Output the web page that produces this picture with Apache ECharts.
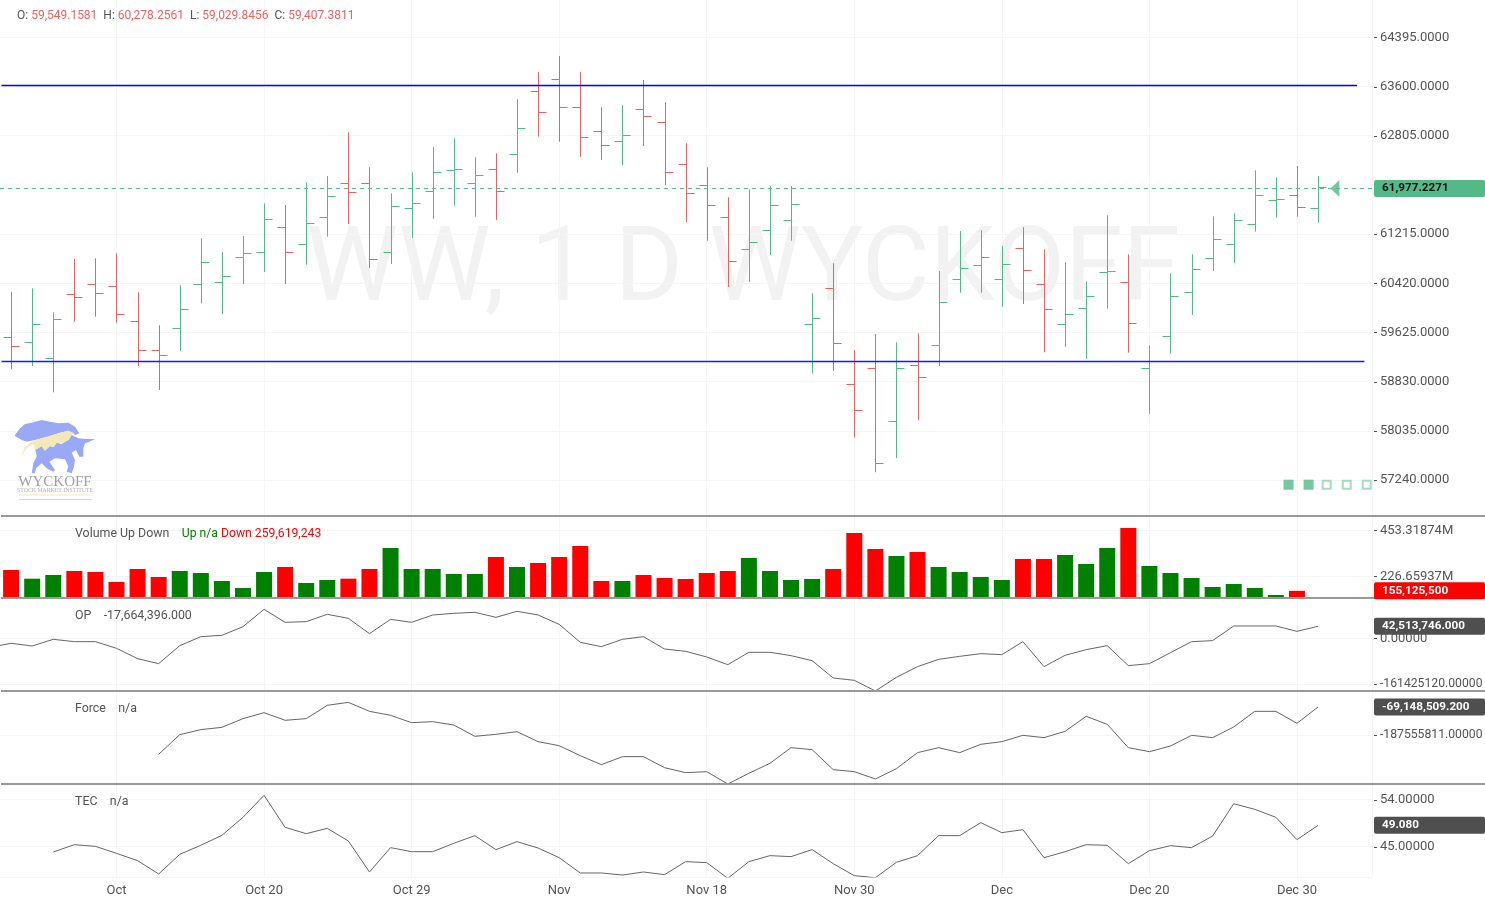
<!DOCTYPE html>
<html>
<head>
<meta charset="utf-8">
<title>WW 1D Wyckoff</title>
<script src="https://cdn.jsdelivr.net/npm/echarts@6/dist/echarts.min.js"></script>
<style>
    html, body { margin: 0; padding: 0; background: #fff; }
    #chart { width: 1485px; height: 897px; }
</style>
</head>
<body>
<div id="chart"></div>
<script>
// x axis, one slot per session
var tickIndex = [5, 12, 19, 26, 33, 40, 47, 54, 61];
var tickLabels = ['Oct', 'Oct 20', 'Oct 29', 'Nov', 'Nov 18', 'Nov 30', 'Dec', 'Dec 20', 'Dec 30'];

// price bars
var opens = [59549.1581, 59466, 59208, 60242, 60404, 60371, 59806, 59337, 59693, 60404, 60436, 60850, 60930, 61325, 61050, 61486, 62036, 62036, 60930, 61632, 61916, 62246, 62036, 62262, 62504, 63522, 63716, 63264, 62876, 62714, 63231, 63021, 62343, 62003, 61486, 60969, 61276, 61443, 59757, 60344, 58797, 59046, 58199, 59095, 59418, 60484, 60711, 60484, 60985, 60413, 59757, 60021, 60597, 60446, 59056, 59573, 60274, 60824, 61060, 61373, 61771, 61842, 61632];
var highs = [60278.2561, 60339, 59951, 60812, 60824, 60905, 60274, 59741, 60387, 61147, 60921, 61184, 61712, 61685, 62052, 62154, 62860, 62294, 61874, 62213, 62622, 62763, 62456, 62520, 63393, 63834, 64093, 63834, 63264, 63301, 63705, 63345, 62682, 62294, 61809, 61939, 61992, 61992, 60258, 60743, 59342, 59600, 59466, 59612, 60618, 61265, 61276, 61022, 61325, 60969, 60759, 60452, 61519, 60888, 59418, 60581, 60888, 61502, 61551, 62246, 62133, 62315, 62154];
var lows = [59029.8456, 59083, 58658, 59799, 59880, 59783, 59083, 58695, 59326, 60096, 59924, 60408, 60602, 60408, 60720, 61173, 61378, 60667, 60732, 61152, 61459, 61674, 61496, 61443, 62207, 62789, 62708, 62465, 62412, 62331, 62638, 62008, 61410, 61108, 60360, 60441, 60877, 61108, 58959, 59002, 57931, 57365, 57597, 58211, 59083, 60268, 60268, 60042, 60085, 59305, 59390, 59196, 60009, 59298, 58308, 59282, 59907, 60618, 60743, 61254, 61480, 61496, 61399];
var closes = [59407.3811, 59757, 59848, 60193, 60258, 59919, 59337, 59266, 59999, 60759, 60533, 60905, 61464, 60930, 61389, 61835, 61890, 60812, 61674, 61712, 62213, 62262, 62165, 61916, 62924, 63188, 63264, 62779, 62650, 62821, 63118, 62223, 61874, 61680, 60775, 61082, 61680, 61709, 59854, 59460, 58367, 57521, 59046, 58910, 60122, 60672, 60840, 60727, 60630, 59999, 59919, 60219, 60614, 59783, 59169, 60219, 60646, 61140, 61447, 61842, 61787, 61657, 61977.2271];

// volume in millions, with the colour flag of each bar (U green, D red)
var volumes = [257.7, 215.0, 233.1, 252.8, 247.9, 198.6, 262.6, 223.2, 252.8, 242.9, 203.5, 169.0, 247.9, 272.5, 193.7, 208.4, 215.0, 262.6, 366.1, 262.6, 262.6, 238.0, 238.0, 321.8, 272.5, 292.2, 321.8, 376.0, 203.5, 203.5, 233.1, 218.3, 213.4, 242.9, 252.8, 316.8, 252.8, 208.4, 213.4, 262.6, 440.0, 361.2, 326.7, 346.4, 272.5, 247.9, 223.2, 208.4, 311.9, 311.9, 331.6, 287.3, 366.1, 464.6, 277.4, 242.9, 218.3, 174.0, 188.7, 169.0, 134.5, 155.1255];
var volumeSides = 'DUUDDDDDUUUUUDUUDDUUUUUDUDDDDUDDDDDUUUUDDDUDUUUUDDUUUDUUUUUUUD';

// indicators, OP and Force in millions
var opLead = -31.9; // session before the first visible one
var opValues = [-17.664, -27.2, -3.6, -11.9, -11.9, -35.4, -71.9, -89.6, -26.0, 5.8, 10.5, 41.1, 102.3, 56.4, 58.8, 84.7, 70.5, 16.4, 67.0, 56.4, 82.3, 88.2, 91.7, 74.1, 95.3, 82.3, 49.3, -14.2, -29.5, -3.6, 5.8, -37.8, -46.0, -66.0, -93.1, -49.5, -49.5, -61.3, -79.0, -140.2, -148.4, -186.1, -137.8, -100.2, -74.3, -63.7, -54.3, -57.8, -11.9, -100.2, -60.1, -40.1, -26.0, -96.6, -89.6, -50.7, -11.9, -8.3, 43.5, 43.5, 43.5, 24.6, 42.514];
var forceValues = [null, null, null, null, null, null, null, -267.1, -184.9, -164.0, -154.3, -118.0, -93.0, -125.0, -118.0, -62.3, -49.8, -87.4, -104.1, -134.8, -130.6, -144.5, -191.9, -183.5, -172.4, -214.2, -230.9, -272.7, -310.3, -276.9, -276.9, -322.9, -343.7, -339.6, -391.1, -346.5, -304.7, -239.2, -247.6, -331.2, -339.6, -370.2, -327.0, -260.1, -239.2, -260.1, -225.3, -214.2, -187.7, -197.5, -171.0, -108.3, -141.7, -239.2, -256.0, -232.3, -187.7, -197.5, -152.9, -87.4, -87.4, -137.5, -69.149];
var tecValues = [null, null, 43.98, 45.38, 45.06, 43.72, 42.32, 39.77, 43.53, 45.26, 47.17, 50.62, 54.83, 48.70, 47.49, 48.51, 46.09, 40.15, 44.81, 44.04, 44.04, 45.64, 47.11, 44.43, 45.96, 44.74, 42.89, 39.96, 39.96, 39.57, 40.15, 39.64, 42.13, 41.94, 38.94, 42.13, 43.28, 43.09, 44.43, 41.74, 39.45, 39.06, 42.00, 43.28, 47.11, 47.11, 49.60, 47.68, 48.26, 42.89, 44.04, 45.38, 45.26, 41.74, 44.23, 45.19, 44.81, 47.04, 53.23, 52.15, 50.62, 46.34, 49.08];

// y axis ticks, the price scale has no label where the last price badge sits
var priceTicks = [57240, 58035, 58830, 59625, 60420, 61215, 62010, 62805, 63600, 64395];
var priceLabels = [57240, 58035, 58830, 59625, 60420, 61215, 62805, 63600, 64395];
var volumeTicks = [226.65937, 453.31874];
var opTicks = [-161.42512, 0];
var forceTicks = [-187.555811];
var tecTicks = [45, 54];

// levels drawn on the price pane: [value, first slot, last slot]
var upperLevel = [63616, -0.455, 63.85];
var lowerLevel = [59156, -0.455, 64.2];
var lastLine = 61952;

// status squares in the lower right corner of the price pane
var signalSlots = [60.6, 61.55, 62.41, 63.36, 64.31];
var signalFilled = [true, true, false, false, false];
var signalPrice = 57165;

var GREEN = '#53b987';
var RED = '#f06060';
var TEXT = '#555';
var GRID = '#f5f5f5';
var FONT = 'Roboto';
var XMIN = -0.5266, XMAX = 64.56;

// logo outlines, in 3x pixels of the logo group
var logoCloud = [[45,525],[60,505],[75,492],[95,488],[125,480],[150,485],[175,490],[205,488],[225,500],[238,520],[225,525],[205,512],[180,518],[150,528],[125,535],[105,540],[80,545],[65,540],[45,528]];
var logoBull = [[105,570],[115,565],[125,558],[135,572],[150,558],[160,562],[170,548],[185,552],[195,545],[205,540],[215,525],[235,535],[255,537],[285,537],[268,545],[255,550],[250,565],[250,590],[238,590],[228,570],[215,578],[225,600],[222,620],[215,640],[200,635],[205,620],[195,598],[165,595],[148,605],[165,630],[160,635],[140,625],[125,610],[108,625],[105,640],[95,640],[100,610],[110,590],[108,575]];
var logoRidge = [[65,583],[75,562],[95,545],[125,535],[150,528],[180,518],[205,512],[225,520],[215,525],[205,540],[195,545],[185,552],[170,548],[160,562],[150,558],[135,572],[125,558],[115,565],[105,570],[100,552],[85,560],[72,575],[68,585]];

var chart = echarts.init(document.getElementById('chart'));

function xAxisFor(gridIndex, showLabels) {
    return {
        type: 'value', gridIndex: gridIndex, min: XMIN, max: XMAX,
        axisLine: { show: showLabels, lineStyle: { color: GRID } },
        axisTick: { show: false, customValues: tickIndex },
        axisLabel: {
            show: showLabels, customValues: tickIndex, color: TEXT, fontFamily: FONT, fontSize: 13, margin: 7,
            formatter: function (value) { return tickLabels[tickIndex.indexOf(value)]; }
        },
        splitLine: { show: true, lineStyle: { color: GRID, width: 1 } }
    };
}

function yAxisFor(gridIndex, min, max, ticks, labels, format) {
    return {
        type: 'value', gridIndex: gridIndex, position: 'right', min: min, max: max, scale: true,
        axisLine: { show: false },
        axisTick: { show: false, customValues: ticks },
        axisLabel: {
            show: true, customValues: labels, color: TEXT, fontFamily: FONT, fontSize: 13, margin: 8, formatter: format,
            rich: { s: { color: TEXT, fontFamily: FONT, fontSize: 12.2 } }
        },
        splitLine: { show: true, lineStyle: { color: GRID, width: 1 } }
    };
}

// long negative labels run to the window edge, so they are set a little smaller
function millionsLabel(value) {
    var text = Math.round(value * 1e6).toFixed(5);
    return value < 0 ? '{s|' + text + '}' : text;
}

function gridFor(top, height) {
    return { left: 0, width: 1372, top: top, height: height, outerBoundsMode: 'none' };
}

function renderOhlc(params, api) {
    var x = api.value(0);
    var open = api.coord([x, api.value(1)]);
    var high = api.coord([x, api.value(2)]);
    var low = api.coord([x, api.value(3)]);
    var close = api.coord([x, api.value(4)]);
    var color = api.value(4) >= api.value(1) ? GREEN : RED;
    var style = { stroke: color, lineWidth: 1, fill: null };
    var px = Math.round(open[0]) + 0.5;
    return {
        type: 'group',
        children: [
            { type: 'line', shape: { x1: px, y1: high[1], x2: px, y2: low[1] }, style: style },
            { type: 'line', shape: { x1: px - 8, y1: Math.round(open[1]) + 0.5, x2: px, y2: Math.round(open[1]) + 0.5 }, style: style },
            { type: 'line', shape: { x1: px, y1: Math.round(close[1]) + 0.5, x2: px + 8, y2: Math.round(close[1]) + 0.5 }, style: style }
        ]
    };
}

function levelSeries(level, color, width) {
    return {
        type: 'line', xAxisIndex: 0, yAxisIndex: 0, symbol: 'none', silent: true, z: 4,
        lineStyle: { color: color, width: width },
        data: [[level[1], level[0]], [level[2], level[0]]]
    };
}

function indicatorSeries(gridIndex, points) {
    return {
        type: 'line', xAxisIndex: gridIndex, yAxisIndex: gridIndex, symbol: 'none', silent: true, clip: true,
        connectNulls: false, lineStyle: { color: '#666', width: 1 }, data: points
    };
}

function indexed(values) {
    return values.map(function (value, i) { return [i, value]; });
}

function paneTitle(left, top, text, rich, size) {
    return {
        left: left, top: top, text: text, padding: 0,
        textStyle: { color: TEXT, fontFamily: FONT, fontSize: size || 12.4, fontWeight: 'normal', rich: rich || {} }
    };
}

function divider(y) {
    return { type: 'line', z: 20, shape: { x1: 1, y1: y, x2: 1485, y2: y }, style: { stroke: '#999', lineWidth: 2 } };
}

var ohlcData = opens.map(function (open, i) { return [i, open, highs[i], lows[i], closes[i]]; });
var volumeData = volumes.map(function (value, i) {
    return { value: [i, value], itemStyle: { color: volumeSides.charAt(i) == 'U' ? '#008000' : '#ff0000' } };
});
var signalData = signalSlots.map(function (slot, i) {
    return {
        value: [slot, signalPrice],
        symbolSize: signalFilled[i] ? 10 : 8,
        itemStyle: signalFilled[i] ? { color: GREEN } : { color: '#fff', borderColor: '#8fd3b2', borderWidth: 2 }
    };
});

var headerRich = {
    l: { color: TEXT, fontFamily: FONT, fontSize: 12 },
    v: { color: RED, fontFamily: FONT, fontSize: 12 }
};
var volumeRich = {
    u: { color: '#008000', fontFamily: FONT, fontSize: 12.2 },
    d: { color: '#ff0000', fontFamily: FONT, fontSize: 12.2 }
};

chart.setOption({
    animation: false,
    backgroundColor: '#fff',
    title: [
        paneTitle(17, 10, '{l|O: }{v|59,549.1581}{l|  H: }{v|60,278.2561}{l|  L: }{v|59,029.8456}{l|  C: }{v|59,407.3811}', headerRich, 12),
        paneTitle(75, 528, 'Volume Up Down    {u|Up n/a} {d|Down 259,619,243}', volumeRich),
        paneTitle(75, 610, 'OP    -17,664,396.000'),
        paneTitle(75, 703, 'Force    n/a'),
        paneTitle(75, 796, 'TEC    n/a')
    ],
    grid: [gridFor(0, 515), gridFor(517, 80), gridFor(599, 91), gridFor(692, 91), gridFor(785, 92)],
    xAxis: [xAxisFor(0, false), xAxisFor(1, false), xAxisFor(2, false), xAxisFor(3, false), xAxisFor(4, true)],
    yAxis: [
        yAxisFor(0, 56675, 64998, priceTicks, priceLabels, function (v) { return v.toFixed(4); }),
        yAxisFor(1, 124.7, 518.8, volumeTicks, volumeTicks, function (v) { return v.toFixed(5) + 'M'; }),
        yAxisFor(2, -182.6, 138.8, opTicks, opTicks, millionsLabel),
        yAxisFor(3, -387, -6.6, forceTicks, forceTicks, millionsLabel),
        yAxisFor(4, 39.19, 56.81, tecTicks, tecTicks, function (v) { return v.toFixed(5); })
    ],
    series: [
        {
            type: 'custom', xAxisIndex: 0, yAxisIndex: 0, renderItem: renderOhlc, clip: true, silent: true,
            encode: { x: 0, y: [1, 2, 3, 4] }, data: ohlcData
        },
        levelSeries(upperLevel, '#0000ff', 1.3),
        levelSeries(lowerLevel, '#1818ff', 1.3),
        {
            type: 'line', xAxisIndex: 0, yAxisIndex: 0, symbol: 'none', silent: true,
            lineStyle: { color: GREEN, width: 1, type: [4, 4] },
            data: [[XMIN, lastLine], [XMAX, lastLine]]
        },
        {
            type: 'scatter', xAxisIndex: 0, yAxisIndex: 0, silent: true,
            symbol: 'triangle', symbolRotate: 90, symbolSize: [17, 9], itemStyle: { color: GREEN },
            data: [[62.8, lastLine]]
        },
        { type: 'scatter', xAxisIndex: 0, yAxisIndex: 0, silent: true, symbol: 'rect', data: signalData },
        { type: 'bar', xAxisIndex: 1, yAxisIndex: 1, barWidth: 16, silent: true, data: volumeData },
        indicatorSeries(2, [[-1, opLead]].concat(indexed(opValues))),
        indicatorSeries(3, indexed(forceValues)),
        indicatorSeries(4, indexed(tecValues))
    ]
});

// badge on the price scale, placed from its value
function badge(gridIndex, value, text, bg, color) {
    var y = chart.convertToPixel({ yAxisIndex: gridIndex }, value);
    return {
        type: 'group',
        children: [
            { type: 'rect', z: 30, shape: { x: 1374, y: y - 8.5, width: 111, height: 17, r: 2 }, style: { fill: bg } },
            { type: 'text', z: 31, x: 1382, y: y, style: { text: text, fill: color, font: 'bold 11.7px ' + FONT, textVerticalAlign: 'middle' } }
        ]
    };
}

// small dash in front of each scale label
function scaleTicks(gridIndex, ticks) {
    return ticks.map(function (value) {
        var y = Math.round(chart.convertToPixel({ yAxisIndex: gridIndex }, value)) + 0.5;
        return { type: 'line', z: 2, shape: { x1: 1374, y1: y, x2: 1377, y2: y }, style: { stroke: TEXT, lineWidth: 1 } };
    });
}

var overlays = [
    {
        type: 'text', z: -1, x: 743, y: 274,
        style: { text: 'WW, 1 D WYCKOFF', fill: '#f2f2f2', font: '104px ' + FONT, textAlign: 'center', textVerticalAlign: 'middle' }
    },
    { type: 'line', z: 1, shape: { x1: 1372.5, y1: 0, x2: 1372.5, y2: 877 }, style: { stroke: GRID, lineWidth: 1 } },
    divider(516), divider(598), divider(691), divider(784),
    {
        type: 'group', x: 0, y: 260, scaleX: 1 / 3, scaleY: 1 / 3,
        children: [
            { type: 'polygon', z: 3, shape: { points: logoCloud }, style: { fill: '#9aa9f5' } },
            { type: 'polygon', z: 3, shape: { points: logoBull }, style: { fill: '#9aa9f5' } },
            { type: 'polygon', z: 4, shape: { points: logoRidge }, style: { fill: '#f3e8b8' } }
        ]
    },
    { type: 'text', z: 3, x: 55, y: 482, style: { text: 'WYCKOFF', fill: '#a0a0a0', font: '15px "Liberation Serif"', textAlign: 'center', textVerticalAlign: 'middle' } },
    { type: 'text', z: 3, x: 55, y: 490, style: { text: 'STOCK MARKET INSTITUTE', fill: '#b0b0b0', font: '5.8px "Liberation Serif"', textAlign: 'center', textVerticalAlign: 'middle' } },
    { type: 'line', z: 3, shape: { x1: 19, y1: 495, x2: 90, y2: 495 }, style: { stroke: '#f3e8b8', lineWidth: 1 } },
    { type: 'line', z: 3, shape: { x1: 19, y1: 499.5, x2: 92, y2: 499.5 }, style: { stroke: '#d8d8d8', lineWidth: 1 } },
    badge(0, lastLine, '61,977.2271', GREEN, '#111'),
    badge(1, 155.1255, '155,125,500', '#ff0000', '#fff'),
    badge(2, 42.514, '42,513,746.000', '#4f4f4f', '#fff'),
    badge(3, -69.149, '-69,148,509.200', '#4f4f4f', '#fff'),
    badge(4, 49.08, '49.080', '#4f4f4f', '#fff')
];

chart.setOption({
    graphic: overlays.concat(
        scaleTicks(0, priceLabels), scaleTicks(1, volumeTicks), scaleTicks(2, opTicks),
        scaleTicks(3, forceTicks), scaleTicks(4, tecTicks)
    )
});
</script>
</body>
</html>
